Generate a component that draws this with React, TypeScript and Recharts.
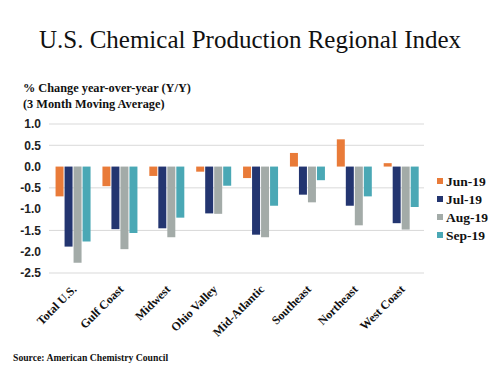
import { BarChart, Bar, XAxis, YAxis, CartesianGrid } from 'recharts'

const regions = ['Total U.S.', 'Gulf Coast', 'Midwest', 'Ohio Valley', 'Mid-Atlantic', 'Southeast', 'Northeast', 'West Coast']
const jun19 = [-0.7, -0.46, -0.22, -0.12, -0.27, 0.32, 0.64, 0.08]
const jul19 = [-1.88, -1.47, -1.45, -1.1, -1.6, -0.66, -0.92, -1.33]
const aug19 = [-2.26, -1.94, -1.66, -1.11, -1.66, -0.84, -1.38, -1.48]
const sep19 = [-1.76, -1.56, -1.2, -0.45, -0.92, -0.32, -0.7, -0.95]
const yTicks = [1.0, 0.5, 0.0, -0.5, -1.0, -1.5, -2.0, -2.5]

const series = [
  { key: 'jun', name: 'Jun-19', color: '#E97B39', values: jun19 },
  { key: 'jul', name: 'Jul-19', color: '#233570', values: jul19 },
  { key: 'aug', name: 'Aug-19', color: '#A3ABA8', values: aug19 },
  { key: 'sep', name: 'Sep-19', color: '#4AA8B5', values: sep19 },
]

const data = regions.map((region, i) => {
  const row: Record<string, string | number> = { region }
  series.forEach(s => { row[s.key] = s.values[i] })
  return row
})

const serif = '"Liberation Serif", "Times New Roman", serif'
const sans = '"Liberation Sans", Arial, sans-serif'

function RegionTick({ x, y, payload }: any) {
  return (
    <text
      x={x + 5}
      y={y + 9}
      transform={`rotate(-45, ${x + 5}, ${y + 9})`}
      textAnchor="end"
      fontFamily={serif}
      fontWeight="bold"
      fontSize={12}
      fill="#111"
    >
      {payload.value}
    </text>
  )
}

export default function App() {
  return (
    <div style={{ position: 'absolute', left: 0, top: 0, width: 500, height: 375, background: '#fff' }}>
      <BarChart
        width={500}
        height={375}
        data={data}
        margin={{ top: 124, right: 76, bottom: 0, left: 0 }}
        barCategoryGap="14%"
        barGap={1}
      >
        <CartesianGrid stroke="#D9D9D9" vertical={false} />
        <XAxis
          dataKey="region"
          axisLine={false}
          tickLine={false}
          interval={0}
          height={102}
          tick={<RegionTick />}
        />
        <YAxis
          domain={[-2.5, 1.0]}
          ticks={yTicks}
          width={49}
          axisLine={false}
          tickLine={false}
          tickFormatter={(v: number) => v.toFixed(1)}
          tick={{ fontFamily: sans, fontWeight: 'bold', fontSize: 12, fill: '#222' }}
        />
        {series.map(s => (
          <Bar key={s.key} dataKey={s.key} name={s.name} fill={s.color} isAnimationActive={false} />
        ))}
      </BarChart>
      <svg width={500} height={375} style={{ position: 'absolute', left: 0, top: 0, pointerEvents: 'none' }}>
        <text x={250} y={48} textAnchor="middle" fontFamily={serif} fontSize={25} fill="#111">
          U.S. Chemical Production Regional Index
        </text>
        <text x={23} y={92} fontFamily={serif} fontWeight="bold" fontSize={12.3} fill="#111">
          % Change year-over-year (Y/Y)
        </text>
        <text x={23} y={107.5} fontFamily={serif} fontWeight="bold" fontSize={12.3} fill="#111">
          (3 Month Moving Average)
        </text>
        <text x={13} y={361} fontFamily={serif} fontWeight="bold" fontSize={9.7} fill="#111">
          Source: American Chemistry Council
        </text>
        {series.map((s, i) => (
          <g key={s.key}>
            <rect x={437} y={178 + i * 18} width={6} height={6} fill={s.color} />
            <text x={446} y={186 + i * 18} fontFamily={serif} fontWeight="bold" fontSize={13.5} fill="#111">
              {s.name}
            </text>
          </g>
        ))}
      </svg>
    </div>
  )
}
